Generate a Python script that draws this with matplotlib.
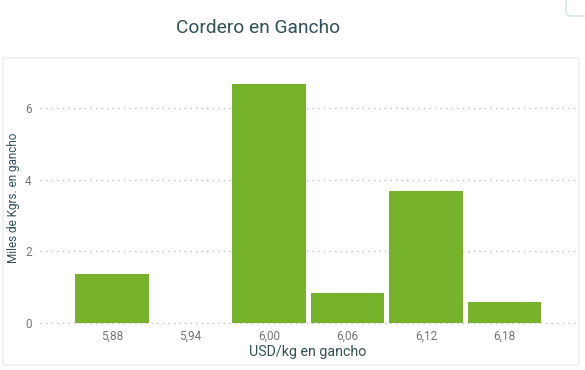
import matplotlib.pyplot as plt
from matplotlib.patches import FancyBboxPatch

# Cordero en Gancho: kilos (miles) por precio
precios = ["5,88", "5,94", "6,00", "6,06", "6,12", "6,18"]
miles_kg = [1.36, 0.0, 6.67, 0.83, 3.69, 0.58]

plt.rcParams['font.family'] = ['Roboto', 'DejaVu Sans']

fig = plt.figure(figsize=(5.85, 3.7), dpi=100)

# panel border
fig.patches.append(FancyBboxPatch((3 / 585, 5 / 370), 576 / 585, 307 / 370,
                                  boxstyle="round,pad=0,rounding_size=0.004",
                                  transform=fig.transFigure, fill=False,
                                  edgecolor="#ececec", linewidth=1.0))
# button corner top right
fig.patches.append(FancyBboxPatch((566 / 585, 354 / 370), 40 / 585, 30 / 370,
                                  boxstyle="round,pad=0,rounding_size=0.01",
                                  transform=fig.transFigure, fill=False,
                                  edgecolor="#cfe3e3", linewidth=1.0))

fig.text(258 / 585, 1 - 28 / 370, "Cordero en Gancho", ha="center", va="center",
         fontsize=13.8, color="#2e5159")

ax = fig.add_axes([40 / 585, 46 / 370, 535 / 585, 252 / 370])
x = list(range(len(precios)))
ax.bar(x, miles_kg, width=0.94, color="#77b22b", zorder=3)

ax.set_xlim(-0.917, 5.898)
ax.set_ylim(-0.03, 7)
ax.set_yticks([0, 2, 4, 6])
ax.set_xticks(x)
ax.set_xticklabels(precios)
ax.grid(axis="y", linestyle=(0, (1, 3)), color="#bdbdbd", linewidth=1.0, zorder=0)
for s in ax.spines.values():
    s.set_visible(False)
ax.tick_params(length=0, labelsize=8.5, labelcolor="#757575")
ax.tick_params(axis="x", pad=4)
ax.tick_params(axis="y", pad=6)

ax.set_xlabel("USD/kg en gancho", fontsize=10.3, color="#2e5159", labelpad=2)
ax.set_ylabel("Miles de Kgrs. en gancho", fontsize=8.5, color="#2e5159", va="center")
ax.yaxis.set_label_coords(-0.05, 0.5)

fig.savefig("out.png", dpi=100)
